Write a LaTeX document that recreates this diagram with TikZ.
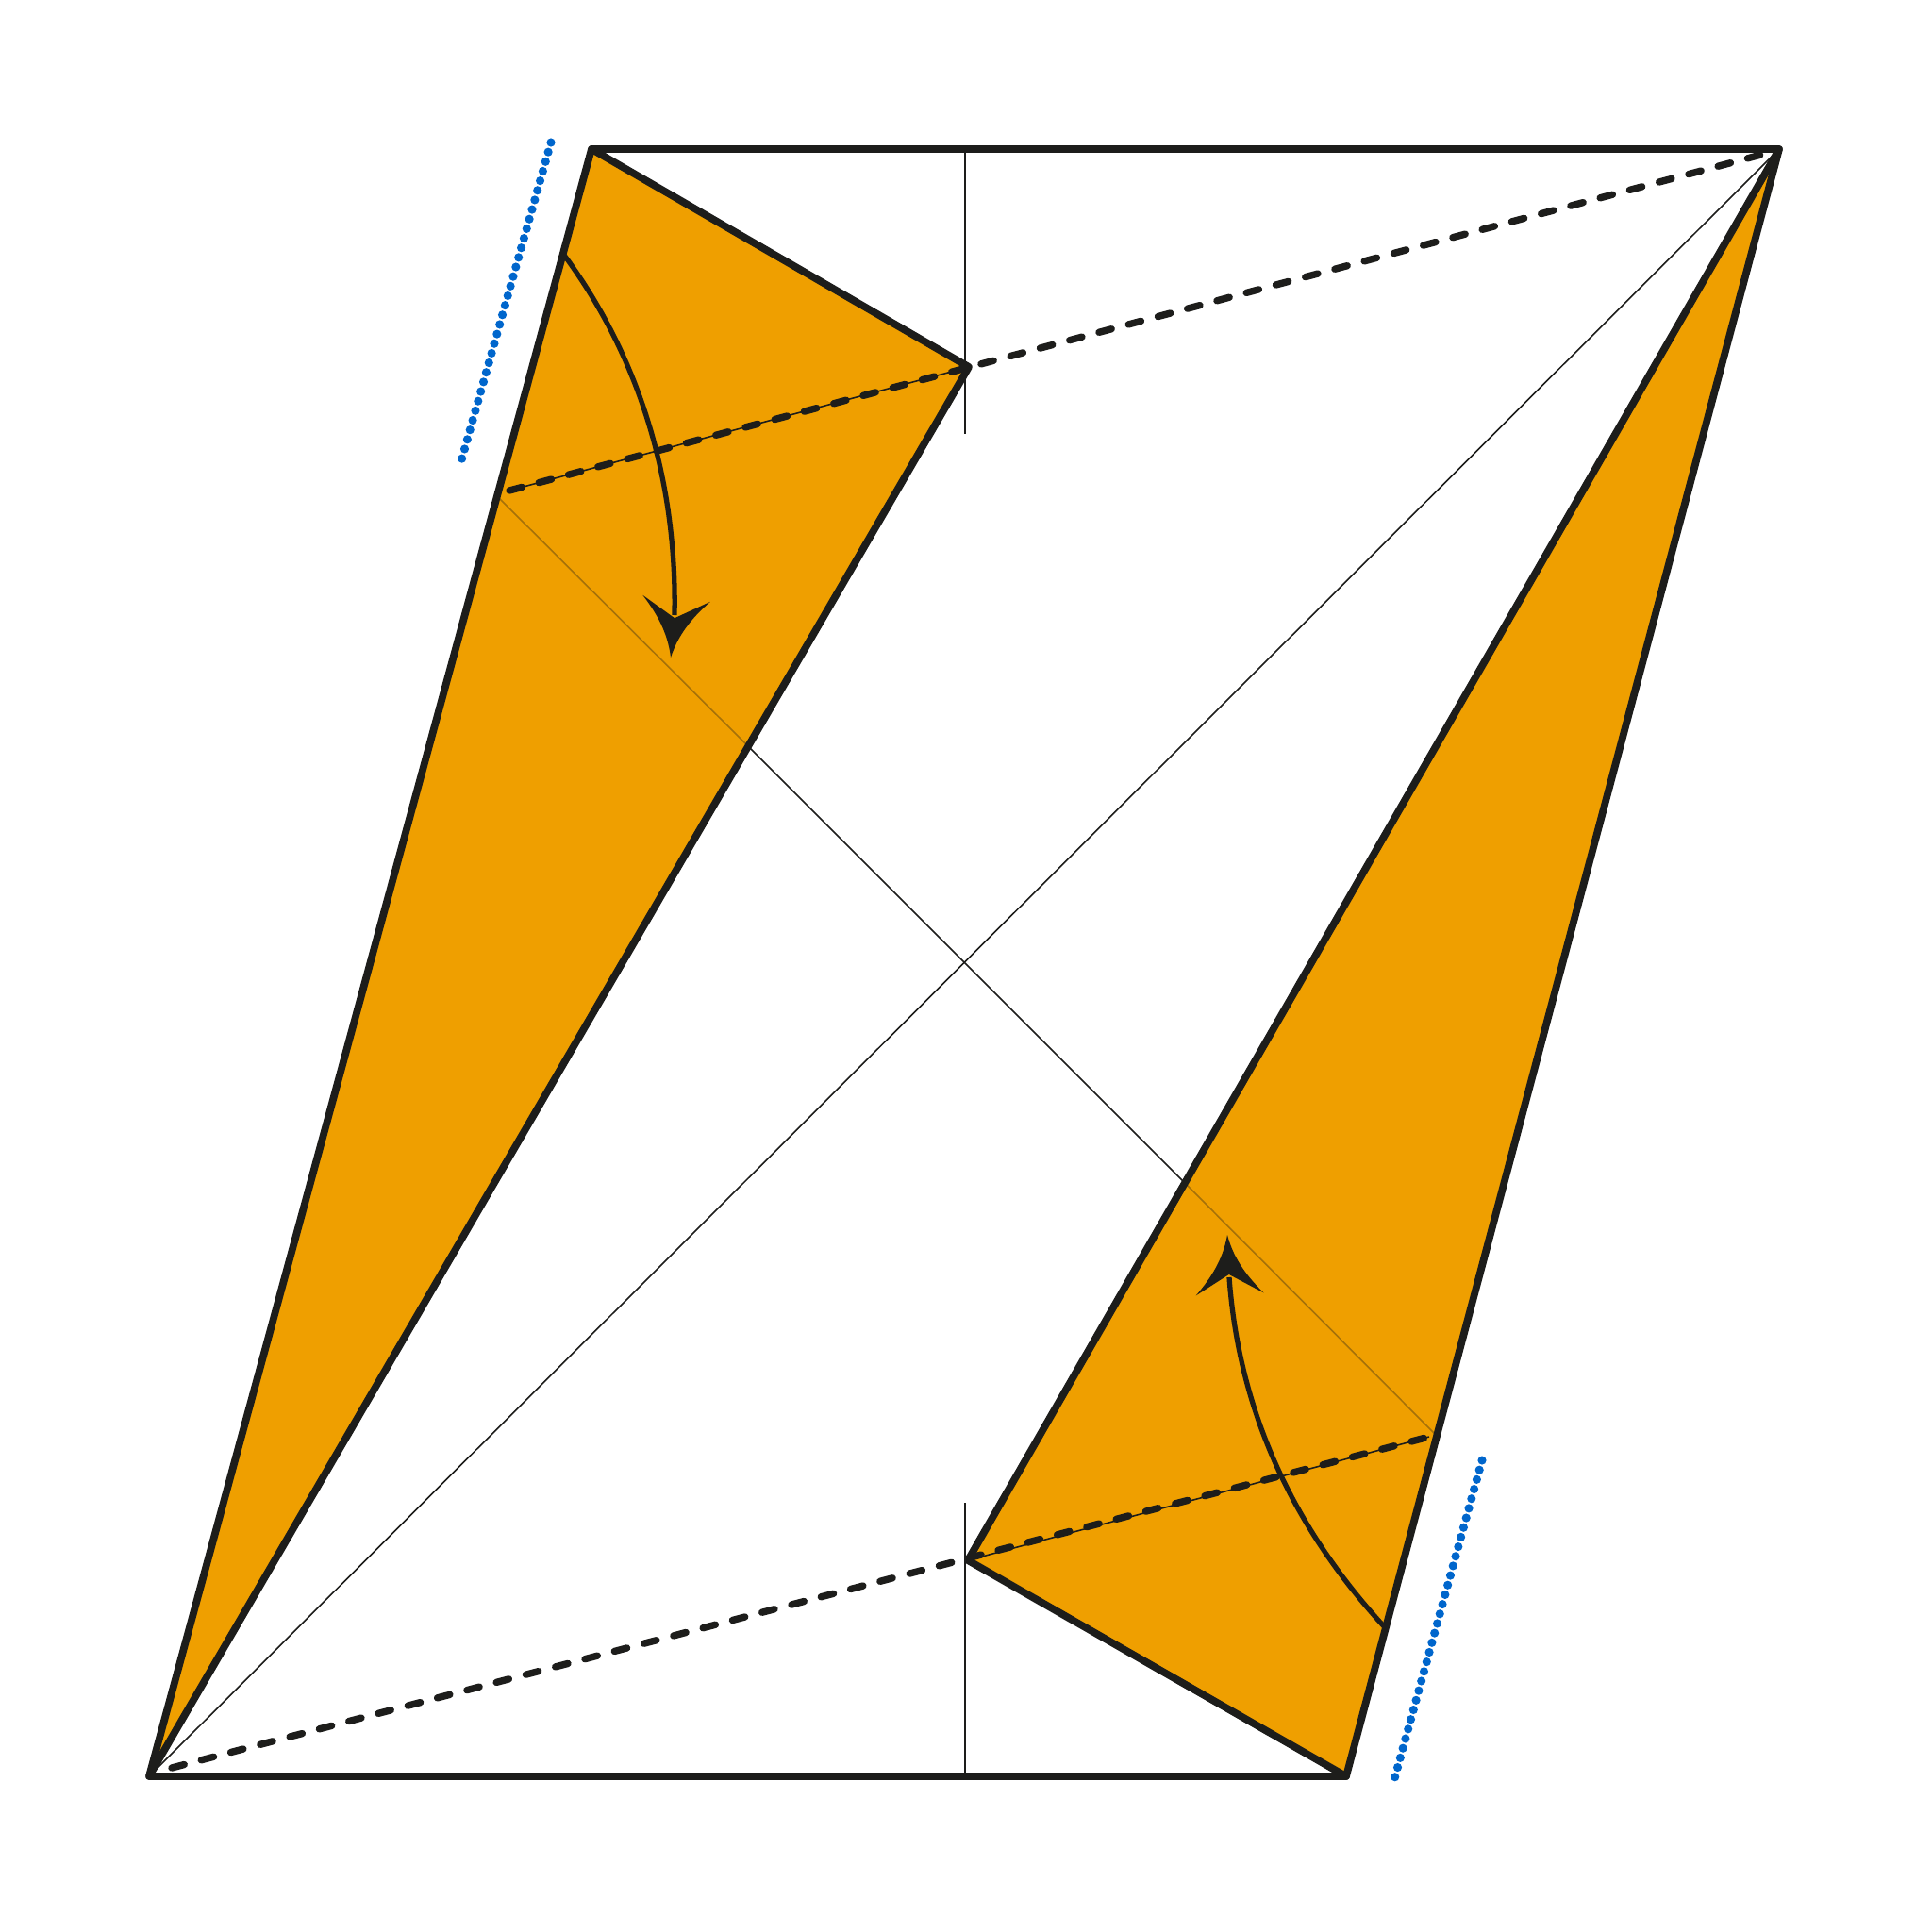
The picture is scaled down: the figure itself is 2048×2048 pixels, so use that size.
\documentclass[tikz,border=0pt]{standalone}
\definecolor{paper}{RGB}{239,159,0}
\definecolor{ink}{RGB}{29,29,27}
\definecolor{guide}{RGB}{0,102,204}
\begin{document}
\begin{tikzpicture}[x=0.01cm,y=-0.01cm,
    outline/.style={ink,line width=2.2pt,line join=round,line cap=round},
    hairline/.style={ink,line width=0.45pt},
    valley/.style={ink,line width=2.1pt,line cap=round,dash pattern=on 3.9pt off 5.3pt},
    swing/.style={ink,line width=1.5pt},
    edgemark/.style={guide,line width=2.6pt,line cap=round,dash pattern=on 0pt off 3pt},
    foldhead/.pic={\fill[ink] (0,0) .. controls (-28,-6) and (-48,-22) .. (-63,-36)
      -- (-42,0) -- (-63,36) .. controls (-48,22) and (-28,6) .. cycle;}]
    \useasboundingbox (0,0) rectangle (2048,2048);
    % corners of the sheet and the two flap tips
    \coordinate (tl) at (627,158);
    \coordinate (tr) at (1886,158);
    \coordinate (bl) at (158,1883);
    \coordinate (br) at (1427,1883);
    \coordinate (tipa) at (1027,389);
    \coordinate (tipb) at (1026,1654);
    % crease through the middle
    \coordinate (cl) at (527,526);
    \coordinate (ca) at (793,791);
    \coordinate (cb) at (1256,1254);
    \coordinate (cr) at (1521,1520);
    % ends of the valley folds
    \coordinate (va) at (540,520);
    \coordinate (vb) at (1515,1523);
    \fill[paper] (tl) -- (tipa) -- (bl) -- cycle;
    \fill[paper] (tr) -- (br) -- (tipb) -- cycle;
    \draw[hairline] (bl) -- (tr);
    \draw[hairline] (ca) -- (cb);
    \draw[hairline,opacity=.35] (cl) -- (ca) (cb) -- (cr);
    \draw[hairline] (1023,158) -- (1023,460) (1023,1593) -- (1023,1883);
    \draw[hairline] (va) -- (tipa) (tipb) -- (vb);
    \draw[valley] (va) -- (1878,161);
    \draw[valley] (182,1874) -- (vb);
    \draw[outline] (tl) -- (tr) -- (br) -- (bl) -- cycle;
    \draw[outline] (tl) -- (tipa) -- (bl);
    \draw[outline] (tr) -- (tipb) -- (br);
    % fold arrows
    \draw[swing] (597,269) .. controls (672,370) and (718,500) .. (715,652);
    \pic[rotate=-95.6] at (711,697) {foldhead};
    \draw[swing] (1467,1724) .. controls (1390,1640) and (1315,1520) .. (1303,1354);
    \pic[rotate=92.4] at (1301,1309) {foldhead};
    % edges to line up
    \draw[edgemark] (584,151) -- (488,492);
    \draw[edgemark] (1571,1548) -- (1477,1890);
\end{tikzpicture}
\end{document}
